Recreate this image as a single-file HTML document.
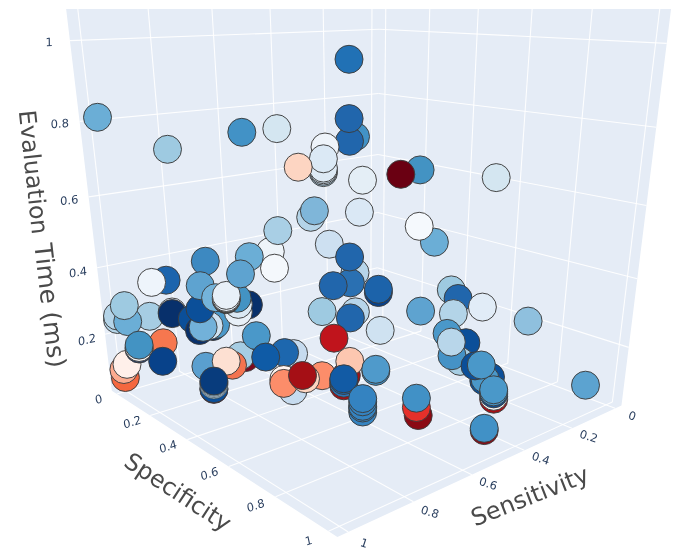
<!DOCTYPE html>
<html><head><meta charset="utf-8"><style>
html,body{margin:0;padding:0;background:#fff;}
svg{display:block;}
.gl line{stroke:#fff;stroke-width:1.1;stroke-opacity:0.92;}
.mk circle{stroke:#3c3c3c;stroke-width:0.95;}
.tk{font-family:"DejaVu Sans","Liberation Sans",sans-serif;font-size:11.5px;fill:#2a3f5f;}
.tt{font-family:"DejaVu Sans","Liberation Sans",sans-serif;font-size:25px;fill:#4a4a4a;}
</style></head><body>
<svg width="686" height="560" viewBox="0 0 686 560">
<defs><clipPath id="cp"><rect x="0" y="9" width="686" height="551"/></clipPath></defs>
<g clip-path="url(#cp)">
<g fill="#e5ecf6"><polygon points="111.83,390.69 337.39,537.00 621.45,405.38 687.02,-118.74 379.87,-92.08 51.32,-114.74"/></g>
<g class="gl"><line x1="370.72" y1="316.70" x2="372.38" y2="-92.60"/>
<line x1="382.79" y1="317.03" x2="386.74" y2="-92.68"/>
<line x1="370.72" y1="316.70" x2="615.11" y2="408.32"/>
<line x1="382.79" y1="317.03" x2="116.82" y2="393.93"/>
<line x1="328.20" y1="328.85" x2="321.53" y2="-96.11"/>
<line x1="420.90" y1="331.14" x2="432.64" y2="-96.66"/>
<line x1="328.20" y1="328.85" x2="571.89" y2="428.35"/>
<line x1="420.90" y1="331.14" x2="150.18" y2="415.57"/>
<line x1="282.42" y1="341.93" x2="265.99" y2="-99.94"/>
<line x1="462.38" y1="346.49" x2="483.46" y2="-101.07"/>
<line x1="282.42" y1="341.93" x2="524.35" y2="450.37"/>
<line x1="462.38" y1="346.49" x2="187.27" y2="439.63"/>
<line x1="233.01" y1="356.06" x2="205.07" y2="-104.14"/>
<line x1="507.73" y1="363.28" x2="540.06" y2="-105.99"/>
<line x1="233.01" y1="356.06" x2="471.82" y2="474.71"/>
<line x1="507.73" y1="363.28" x2="228.76" y2="466.54"/>
<line x1="179.50" y1="371.35" x2="137.96" y2="-108.77"/>
<line x1="557.50" y1="381.71" x2="603.47" y2="-111.49"/>
<line x1="179.50" y1="371.35" x2="413.47" y2="501.75"/>
<line x1="557.50" y1="381.71" x2="275.47" y2="496.84"/>
<line x1="121.37" y1="387.97" x2="63.66" y2="-113.89"/>
<line x1="612.37" y1="402.02" x2="675.01" y2="-117.70"/>
<line x1="121.37" y1="387.97" x2="348.27" y2="531.96"/>
<line x1="612.37" y1="402.02" x2="328.46" y2="531.21"/>
<line x1="377.36" y1="267.68" x2="105.08" y2="334.32"/>
<line x1="377.36" y1="267.68" x2="628.71" y2="347.37"/>
<line x1="377.74" y1="212.52" x2="97.11" y2="267.73"/>
<line x1="377.74" y1="212.52" x2="637.30" y2="278.70"/>
<line x1="378.15" y1="154.55" x2="88.63" y2="196.88"/>
<line x1="378.15" y1="154.55" x2="646.46" y2="205.47"/>
<line x1="378.57" y1="93.52" x2="79.59" y2="121.35"/>
<line x1="378.57" y1="93.52" x2="656.26" y2="127.20"/>
<line x1="379.02" y1="29.21" x2="69.92" y2="40.64"/>
<line x1="379.02" y1="29.21" x2="666.75" y2="43.34"/>
<line x1="379.49" y1="-38.66" x2="59.58" y2="-45.79"/>
<line x1="379.49" y1="-38.66" x2="678.01" y2="-46.71"/></g>
</g>
<g class="tk" text-anchor="middle">
<text transform="translate(49.0 42.0) rotate(-2) skewX(-1.4)" y="4.2">1</text>
<text transform="translate(59.8 123.3) rotate(-4) skewX(-2.8)" y="4.2">0.8</text>
<text transform="translate(69.2 200.0) rotate(-7) skewX(-4.9)" y="4.2">0.6</text>
<text transform="translate(78.0 272.0) rotate(-10) skewX(-7.0)" y="4.2">0.4</text>
<text transform="translate(87.0 339.5) rotate(-12) skewX(-8.4)" y="4.2">0.2</text>
<text transform="translate(98.5 399.0) rotate(-18) skewX(-6)" y="4.2">0</text>
<text transform="translate(132.1 421.9) rotate(-18) skewX(-6)" y="4.2">0.2</text>
<text transform="translate(168.0 446.4) rotate(-18) skewX(-6)" y="4.2">0.4</text>
<text transform="translate(209.3 473.5) rotate(-18) skewX(-6)" y="4.2">0.6</text>
<text transform="translate(255.6 505.3) rotate(-18) skewX(-6)" y="4.2">0.8</text>
<text transform="translate(308.5 540.5) rotate(-18) skewX(-6)" y="4.2">1</text>
<text transform="translate(632.2 415.7) rotate(18)" y="4.2">0</text>
<text transform="translate(588.8 436.0) rotate(18)" y="4.2">0.2</text>
<text transform="translate(540.9 458.2) rotate(18)" y="4.2">0.4</text>
<text transform="translate(488.3 483.4) rotate(18)" y="4.2">0.6</text>
<text transform="translate(430.1 511.8) rotate(18)" y="4.2">0.8</text>
<text transform="translate(364.2 542.8) rotate(18)" y="4.2">1</text>
</g>
<g class="tt">
<text transform="translate(18.8 111.1) rotate(83.9)" style="font-size:23.6px">Evaluation</text>
<text transform="translate(34.2 244.4) rotate(83.3)" style="font-size:24.8px">Time (ms)</text>
<text transform="translate(122.4 465.2) rotate(33.3)" style="font-size:23.7px">Specificity</text>
<text transform="translate(475 526.5) rotate(-21.5)" style="font-size:23.9px">Sensitivity</text>
</g>
<g class="mk">
<circle cx="97.5" cy="117.3" r="14.00" fill="#6baed6"/>
<circle cx="167.5" cy="149.3" r="14.00" fill="#9ecae1"/>
<circle cx="241.8" cy="132.3" r="14.00" fill="#4292c6"/>
<circle cx="349.0" cy="59.3" r="14.00" fill="#2171b5"/>
<circle cx="276.8" cy="128.6" r="14.00" fill="#d4e6f1"/>
<circle cx="355.5" cy="136.6" r="14.00" fill="#4292c6"/>
<circle cx="349.5" cy="141.3" r="14.00" fill="#2166ac"/>
<circle cx="349.1" cy="118.6" r="14.00" fill="#2166ac"/>
<circle cx="325.0" cy="147.0" r="14.00" fill="#eef4fa"/>
<circle cx="323.4" cy="172.6" r="14.00" fill="#a6cde3"/>
<circle cx="323.4" cy="171.2" r="14.00" fill="#c6dbef"/>
<circle cx="323.4" cy="169.7" r="14.00" fill="#d6e6f3"/>
<circle cx="323.4" cy="168.1" r="14.00" fill="#dde9f4"/>
<circle cx="323.4" cy="158.8" r="14.00" fill="#dbe9f5"/>
<circle cx="298.2" cy="167.2" r="14.00" fill="#fdd5c2"/>
<circle cx="362.5" cy="180.2" r="14.00" fill="#e4eef6"/>
<circle cx="420.1" cy="169.9" r="14.00" fill="#4393c3"/>
<circle cx="400.8" cy="174.3" r="14.00" fill="#6a0012"/>
<circle cx="496.2" cy="177.6" r="14.00" fill="#d4e6f1"/>
<circle cx="434.4" cy="242.2" r="14.00" fill="#6baed6"/>
<circle cx="419.2" cy="226.3" r="14.00" fill="#f5f9fd"/>
<circle cx="359.4" cy="212.2" r="14.00" fill="#dae8f5"/>
<circle cx="310.7" cy="217.3" r="14.00" fill="#b4d4e8"/>
<circle cx="314.4" cy="210.8" r="14.00" fill="#7fb6d9"/>
<circle cx="270.3" cy="251.6" r="14.00" fill="#eef4f9"/>
<circle cx="277.8" cy="230.6" r="14.00" fill="#a9cfe5"/>
<circle cx="274.5" cy="268.2" r="14.00" fill="#f4f8fc"/>
<circle cx="249.3" cy="256.7" r="14.00" fill="#6baed6"/>
<circle cx="329.3" cy="244.2" r="14.00" fill="#cde0f1"/>
<circle cx="355.0" cy="272.6" r="14.00" fill="#b7d5ea"/>
<circle cx="350.4" cy="282.9" r="14.00" fill="#2a70b2"/>
<circle cx="349.6" cy="257.0" r="14.00" fill="#2166ac"/>
<circle cx="333.2" cy="285.7" r="14.00" fill="#2166ac"/>
<circle cx="378.4" cy="292.5" r="14.00" fill="#08428a"/>
<circle cx="378.4" cy="289.3" r="14.00" fill="#1c63aa"/>
<circle cx="451.3" cy="289.9" r="14.00" fill="#9ecae1"/>
<circle cx="458.1" cy="298.5" r="14.00" fill="#2166ac"/>
<circle cx="482.4" cy="307.1" r="14.00" fill="#e1ecf7"/>
<circle cx="453.4" cy="313.6" r="14.00" fill="#b3d4e8"/>
<circle cx="420.6" cy="311.1" r="14.00" fill="#5ea3d0"/>
<circle cx="528.1" cy="321.1" r="14.00" fill="#8fc0de"/>
<circle cx="447.1" cy="333.4" r="14.00" fill="#4a98c9"/>
<circle cx="465.9" cy="342.7" r="14.00" fill="#0b4f99"/>
<circle cx="460.2" cy="361.4" r="14.00" fill="#a6cde3"/>
<circle cx="452.0" cy="355.7" r="14.00" fill="#4592c6"/>
<circle cx="451.3" cy="342.1" r="14.00" fill="#b8d6ea"/>
<circle cx="490.5" cy="377.1" r="14.00" fill="#0b4f99"/>
<circle cx="483.8" cy="380.8" r="14.00" fill="#0b4f99"/>
<circle cx="485.0" cy="379.0" r="14.00" fill="#4a98c9"/>
<circle cx="475.0" cy="365.9" r="14.00" fill="#0b4f99"/>
<circle cx="481.3" cy="365.0" r="14.00" fill="#4a98c9"/>
<circle cx="493.7" cy="399.2" r="14.00" fill="#a50f15"/>
<circle cx="493.7" cy="396.3" r="14.00" fill="#f7f7f7"/>
<circle cx="493.7" cy="393.9" r="14.00" fill="#0b4f99"/>
<circle cx="493.7" cy="391.9" r="14.00" fill="#4a98c9"/>
<circle cx="493.7" cy="389.8" r="14.00" fill="#4a98c9"/>
<circle cx="484.2" cy="430.6" r="14.00" fill="#8b0a14"/>
<circle cx="484.2" cy="428.3" r="14.00" fill="#4191c6"/>
<circle cx="585.5" cy="385.2" r="14.00" fill="#5ca3d0"/>
<circle cx="418.2" cy="415.5" r="14.00" fill="#8b0a14"/>
<circle cx="416.4" cy="407.5" r="14.00" fill="#e5302a"/>
<circle cx="416.4" cy="398.2" r="14.00" fill="#4191c6"/>
<circle cx="166.1" cy="280.2" r="14.00" fill="#1c64ad"/>
<circle cx="151.6" cy="282.4" r="14.00" fill="#eef4fb"/>
<circle cx="205.3" cy="261.2" r="14.00" fill="#3d89c1"/>
<circle cx="149.6" cy="316.3" r="14.00" fill="#a6cde3"/>
<circle cx="117.5" cy="319.5" r="14.00" fill="#b4d4e8"/>
<circle cx="117.5" cy="316.0" r="14.00" fill="#b4d4e8"/>
<circle cx="127.7" cy="321.6" r="14.00" fill="#6baed6"/>
<circle cx="124.3" cy="305.6" r="14.00" fill="#9ecae1"/>
<circle cx="172.2" cy="312.0" r="14.00" fill="#e8f0f8"/>
<circle cx="172.2" cy="313.6" r="14.00" fill="#08306b"/>
<circle cx="248.4" cy="304.8" r="14.00" fill="#08306b"/>
<circle cx="192.3" cy="318.8" r="14.00" fill="#0b4f99"/>
<circle cx="213.0" cy="326.5" r="14.00" fill="#08306b"/>
<circle cx="215.6" cy="324.5" r="14.00" fill="#4a98c9"/>
<circle cx="209.0" cy="325.7" r="14.00" fill="#cfe2f1"/>
<circle cx="199.5" cy="330.5" r="14.00" fill="#08306b"/>
<circle cx="203.1" cy="327.3" r="14.00" fill="#72b1d9"/>
<circle cx="200.0" cy="308.8" r="14.00" fill="#0b4f99"/>
<circle cx="200.2" cy="285.7" r="14.00" fill="#5ea3d0"/>
<circle cx="215.6" cy="297.7" r="14.00" fill="#74b3da"/>
<circle cx="238.3" cy="312.0" r="14.00" fill="#e8f0f8"/>
<circle cx="238.3" cy="304.4" r="14.00" fill="#dae8f3"/>
<circle cx="237.1" cy="298.3" r="14.00" fill="#4393c3"/>
<circle cx="226.3" cy="299.6" r="14.00" fill="#3a3a3a"/>
<circle cx="226.3" cy="298.5" r="14.00" fill="#9a9a9a"/>
<circle cx="226.3" cy="297.5" r="14.00" fill="#e8f0f8"/>
<circle cx="226.3" cy="295.4" r="14.00" fill="#e8f0f8"/>
<circle cx="240.5" cy="273.9" r="14.00" fill="#5ea3d0"/>
<circle cx="125.4" cy="377.5" r="14.00" fill="#f4673f"/>
<circle cx="123.9" cy="369.5" r="14.00" fill="#fcab8f"/>
<circle cx="127.0" cy="364.3" r="14.00" fill="#fff0ea"/>
<circle cx="163.2" cy="342.8" r="14.00" fill="#f6774f"/>
<circle cx="139.1" cy="349.0" r="14.00" fill="#1f3b6b"/>
<circle cx="139.1" cy="347.5" r="14.00" fill="#f0f0f0"/>
<circle cx="139.1" cy="345.1" r="14.00" fill="#4393c3"/>
<circle cx="162.7" cy="361.3" r="14.00" fill="#08428a"/>
<circle cx="205.9" cy="366.3" r="14.00" fill="#5a9fcf"/>
<circle cx="245.4" cy="357.6" r="14.00" fill="#7a0a1f"/>
<circle cx="240.5" cy="355.8" r="14.00" fill="#a6cde3"/>
<circle cx="232.5" cy="365.2" r="14.00" fill="#f4734f"/>
<circle cx="226.2" cy="361.2" r="14.00" fill="#fde0d2"/>
<circle cx="213.9" cy="389.4" r="14.00" fill="#7a0a1f"/>
<circle cx="213.9" cy="388.7" r="14.00" fill="#0b4f99"/>
<circle cx="213.9" cy="384.9" r="14.00" fill="#9ecae1" style="stroke-width:0.6"/>
<circle cx="213.9" cy="383.6" r="14.00" fill="#c6dbef" style="stroke-width:0.6"/>
<circle cx="213.9" cy="382.3" r="14.00" fill="#9ecae1" style="stroke-width:0.6"/>
<circle cx="213.9" cy="381.1" r="14.00" fill="#083c7d"/>
<circle cx="256.3" cy="335.7" r="14.00" fill="#4a98c9"/>
<circle cx="293.6" cy="353.6" r="14.00" fill="#c6dbef"/>
<circle cx="284.6" cy="352.6" r="14.00" fill="#1d67ae"/>
<circle cx="265.7" cy="357.1" r="14.00" fill="#0f5ba6"/>
<circle cx="293.0" cy="390.7" r="14.00" fill="#c6dbef"/>
<circle cx="283.8" cy="379.5" r="14.00" fill="#fff5f0"/>
<circle cx="283.8" cy="383.4" r="14.00" fill="#fc8d6a"/>
<circle cx="322.1" cy="375.7" r="14.00" fill="#fc8d6a"/>
<circle cx="305.5" cy="378.8" r="14.00" fill="#fdd5c0"/>
<circle cx="302.5" cy="375.5" r="14.00" fill="#a50f15"/>
<circle cx="322.1" cy="311.6" r="14.00" fill="#9ecae1"/>
<circle cx="355.4" cy="311.8" r="14.00" fill="#b7d5ea"/>
<circle cx="350.4" cy="317.9" r="14.00" fill="#2166ac"/>
<circle cx="380.2" cy="330.4" r="14.00" fill="#cfe2f1"/>
<circle cx="334.0" cy="338.2" r="14.00" fill="#c0141c"/>
<circle cx="346.3" cy="375.4" r="14.00" fill="#a50f15"/>
<circle cx="349.8" cy="361.4" r="14.00" fill="#fdc7b0"/>
<circle cx="343.8" cy="385.8" r="14.00" fill="#a50f15"/>
<circle cx="343.8" cy="383.2" r="14.00" fill="#2c74b5"/>
<circle cx="343.8" cy="380.5" r="14.00" fill="#1d67ae"/>
<circle cx="343.8" cy="378.8" r="14.00" fill="#125ba5"/>
<circle cx="375.8" cy="371.4" r="14.00" fill="#3f8fc5"/>
<circle cx="375.8" cy="369.3" r="14.00" fill="#4f9acb"/>
<circle cx="362.7" cy="412.0" r="14.00" fill="#3483c1"/>
<circle cx="362.7" cy="408.0" r="14.00" fill="#3483c1"/>
<circle cx="362.7" cy="406.3" r="14.00" fill="#3483c1"/>
<circle cx="362.7" cy="401.8" r="14.00" fill="#3483c1"/>
<circle cx="362.7" cy="398.6" r="14.00" fill="#3483c1"/>
</g>
</svg>
</body></html>
